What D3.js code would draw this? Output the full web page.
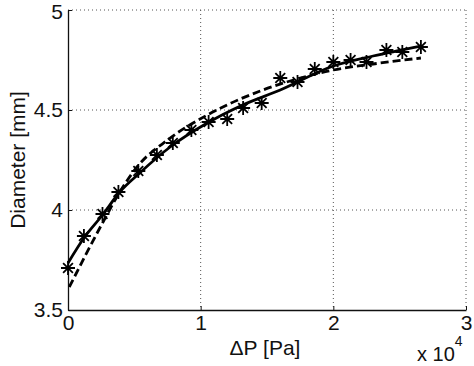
<!DOCTYPE html>
<html>
<head>
<meta charset="utf-8">
<script src="https://cdn.jsdelivr.net/npm/d3@7"></script>
<style>
  body { margin: 0; background: #fff; }
  text { font-family: "Liberation Sans", Arial, sans-serif; fill: #111; }
</style>
</head>
<body>
<svg id="chart" width="474" height="366"></svg>
<script>
// measured points (x in 1e4 Pa, diameter in mm)
const measX = [0, 0.12, 0.26, 0.38, 0.53, 0.67, 0.79, 0.93, 1.06, 1.2, 1.32,
               1.46, 1.6, 1.73, 1.86, 2.0, 2.13, 2.25, 2.4, 2.52, 2.66];
const measY = [3.71, 3.87, 3.98, 4.09, 4.195, 4.275, 4.335, 4.40, 4.44, 4.455, 4.51,
               4.535, 4.66, 4.64, 4.705, 4.74, 4.75, 4.74, 4.80, 4.79, 4.815];

// solid fitted curve
const solidX = [0, 0.12, 0.26, 0.39, 0.54, 0.77, 1.05, 1.3, 1.6, 2.0, 2.3, 2.66];
const solidY = [3.735, 3.86, 3.975, 4.09, 4.185, 4.315, 4.435, 4.52, 4.60, 4.72, 4.77, 4.82];

// dashed model curve
const dashX = [0.01, 0.26, 0.39, 0.52, 0.75, 1.05, 1.47, 1.7, 2.0, 2.3, 2.66];
const dashY = [3.615, 3.935, 4.09, 4.215, 4.35, 4.475, 4.60, 4.65, 4.70, 4.73, 4.76];

const xTicks = [0, 1, 2, 3];
const yTicks = [3.5, 4, 4.5, 5];

const svg = d3.select("#chart");
const margin = {left: 68, right: 8, top: 10, bottom: 56};
const width = +svg.attr("width"), height = +svg.attr("height");

const x = d3.scaleLinear().domain([0, 3]).range([margin.left, width - margin.right]);
const y = d3.scaleLinear().domain([3.5, 5]).range([height - margin.bottom, margin.top]);

// grid
svg.append("g").selectAll("line").data(xTicks.slice(1)).enter().append("line")
  .attr("x1", d => x(d)).attr("x2", d => x(d))
  .attr("y1", y(5)).attr("y2", y(3.5))
  .attr("stroke", "#555").attr("stroke-width", 1).attr("stroke-dasharray", "1,3");
svg.append("g").selectAll("line").data(yTicks.slice(1)).enter().append("line")
  .attr("x1", x(0)).attr("x2", x(3))
  .attr("y1", d => y(d)).attr("y2", d => y(d))
  .attr("stroke", "#555").attr("stroke-width", 1).attr("stroke-dasharray", "1,3");

// axes
const xAxis = svg.append("g")
  .attr("transform", `translate(0,${y(3.5)})`)
  .call(d3.axisBottom(x).tickValues(xTicks).tickFormat(d3.format("d")).tickSizeInner(-4).tickSizeOuter(0).tickPadding(5));
const yAxis = svg.append("g")
  .attr("transform", `translate(${x(0)},0)`)
  .call(d3.axisLeft(y).tickValues(yTicks).tickFormat(d => d).tickSizeInner(-4).tickSizeOuter(0).tickPadding(5));
[xAxis, yAxis].forEach(a => {
  a.select(".domain").attr("stroke", "#111").attr("stroke-width", 1.3);
  a.selectAll(".tick line").attr("stroke", "#111");
  a.selectAll("text").style("font-size", "21px").attr("fill", "#111");
});
// keep the top label inside the frame
yAxis.selectAll(".tick text").filter(d => d === 5).attr("dy", "0.42em");

// lines
const line = d3.line().x(d => x(d[0])).y(d => y(d[1])).curve(d3.curveMonotoneX);

svg.append("path")
  .datum(d3.zip(dashX, dashY))
  .attr("fill", "none")
  .attr("stroke", "#000")
  .attr("stroke-width", 2.8)
  .attr("stroke-dasharray", "8,4")
  .attr("d", line);

svg.append("path")
  .datum(d3.zip(solidX, solidY))
  .attr("fill", "none")
  .attr("stroke", "#000")
  .attr("stroke-width", 2.8)
  .attr("d", line);

// asterisk markers
const r = 7;
const star = `M${-r},0H${r}M0,${-r}V${r}M${-r * 0.7},${-r * 0.7}L${r * 0.7},${r * 0.7}M${-r * 0.7},${r * 0.7}L${r * 0.7},${-r * 0.7}`;
svg.append("g").selectAll("path").data(d3.zip(measX, measY)).enter().append("path")
  .attr("transform", d => `translate(${x(d[0])},${y(d[1])})`)
  .attr("d", star)
  .attr("fill", "none")
  .attr("stroke", "#000")
  .attr("stroke-width", 1.8);

// labels
svg.append("text")
  .attr("x", 265).attr("y", 355)
  .attr("text-anchor", "middle")
  .style("font-size", "21px")
  .text("\u0394P [Pa]");

svg.append("text")
  .attr("transform", `translate(25,160) rotate(-90)`)
  .attr("text-anchor", "middle")
  .style("font-size", "21px")
  .text("Diameter [mm]");

const exp = svg.append("text")
  .attr("x", 417).attr("y", 361)
  .style("font-size", "20px");
exp.append("tspan").text("x 10");
exp.append("tspan").attr("dy", -15).style("font-size", "14px").text("4");
</script>
</body>
</html>
